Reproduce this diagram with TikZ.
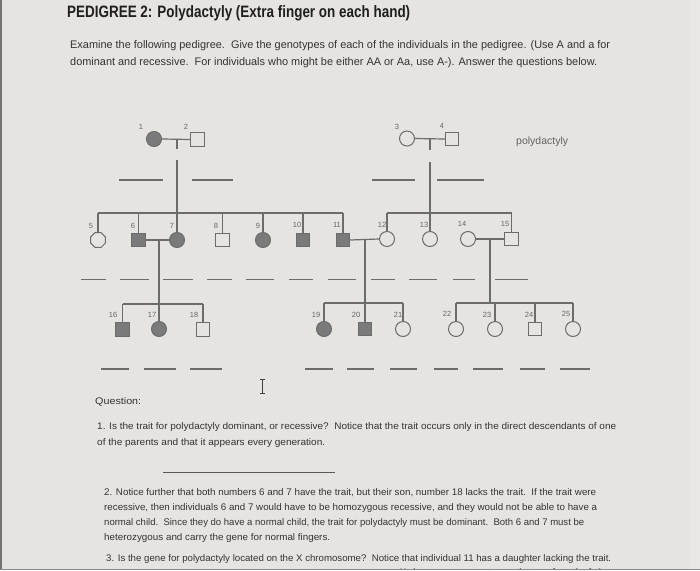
\documentclass[tikz,border=0pt]{standalone}
\usepackage{fontspec}
\setmainfont{Liberation Sans}
\usepackage{graphicx}
\usetikzlibrary{shapes.geometric}
\definecolor{paper}{HTML}{E6E4E0}
\definecolor{ink}{HTML}{333333}
\definecolor{lin}{HTML}{6C6C6C}
\definecolor{fil}{HTML}{7A7A7A}
\newcommand\fitw[2]{\resizebox{#1pt}{\height}{#2}}
\begin{document}
\begin{tikzpicture}[x=1pt,y=-1pt,
  line/.style={draw=lin, line width=1.2pt},
  fem/.style={circle, draw=lin, line width=1pt, minimum size=15pt, inner sep=0pt},
  oct/.style={regular polygon, regular polygon sides=8, draw=lin, line width=1pt, minimum size=16pt, inner sep=0pt},
  mal/.style={rectangle, draw=lin, line width=1pt, minimum size=13.5pt, inner sep=0pt},
  aff/.style={fill=fil},
  num/.style={font=\fontsize{7.5}{8}\selectfont, text=black!60, inner sep=0pt},
  blank/.style={draw=lin, line width=1.2pt},
  body/.style={anchor=base west, inner sep=0pt, text=ink, font=\fontsize{11}{13}\selectfont},
  qtext/.style={anchor=base west, inner sep=0pt, text=ink, font=\fontsize{9.6}{11}\selectfont}]
\useasboundingbox (0,0) rectangle (700,570);
\fill[paper] (0,0) rectangle (700,570);
\fill[black!55] (0,0) rectangle (2,570);
\fill[black!8, opacity=0.6] (690,0) rectangle (700,570);

% texts
\node[anchor=base west, inner sep=0pt, text=black!88, font=\fontsize{16.5}{18}\selectfont\bfseries] (title) at (67,17) {\fitw{343}{PEDIGREE 2: Polydactyly (Extra finger on each hand)}};
\node[body] (p1) at (70,48) {\fitw{540}{Examine the following pedigree.\ \ Give the genotypes of each of the individuals in the pedigree. (Use A and a for}};
\node[body] (p2) at (70,65) {\fitw{527}{dominant and recessive.\ \ For individuals who might be either AA or Aa, use A-). Answer the questions below.}};

% generation I
\node[fem, aff] (i1) at (154,139) {};
\node[mal] (i2) at (197.5,139.5) {};
\node[fem] (i3) at (407,138.5) {};
\node[mal] (i4) at (452,139) {};
% generation II
\node[oct] (i5) at (98,240) {};
\node[mal, aff] (i6) at (138.5,240) {};
\node[fem, aff] (i7) at (177,240) {};
\node[mal] (i8) at (222.5,240) {};
\node[fem, aff] (i9) at (263,240) {};
\node[mal, aff] (i10) at (303,240) {};
\node[mal, aff] (i11) at (343,240) {};
\node[fem] (i12) at (387,239) {};
\node[fem] (i13) at (430,239) {};
\node[fem] (i14) at (468,239) {};
\node[mal] (i15) at (511.5,239) {};
% generation III
\node[mal, aff] (i16) at (122.5,329.5) {};
\node[fem, aff] (i17) at (159,329) {};
\node[mal] (i18) at (203,329.5) {};
\node[fem, aff] (i19) at (324,329) {};
\node[mal, aff] (i20) at (365,329) {};
\node[fem] (i21) at (403,329) {};
\node[fem] (i22) at (456,329) {};
\node[fem] (i23) at (495,329) {};
\node[mal] (i24) at (535,329) {};
\node[fem] (i25) at (573,329) {};

% number labels
\foreach \n/\x/\y in {1/141/127, 2/186/127, 3/397/127, 4/442/126,
  5/91/226, 6/133/226, 7/172/226, 8/216/226, 9/258/226, 10/297/225, 11/337/225,
  12/382/225, 13/424/225, 14/462/224, 15/505/224,
  16/113/315, 17/152/315, 18/194/315, 19/316/315, 20/356/315, 21/398/315,
  22/447/314, 23/487/315, 24/529/315, 25/566/314}
  \node[num] (n\n) at (\x,\y) {\n};

\node[anchor=west, inner sep=0pt, text=black!62, font=\fontsize{10.5}{12}\selectfont] (poly) at (516,142) {polydactyly};

% family 1-2
\coordinate (m12) at (177,139.3);
\coordinate (t12) at (177,149);
\coordinate (d12) at (177,160);
\coordinate (sAL) at (98,213);
\coordinate (sAR) at (343,213);
\draw[line] (i1.east) -- (i2.west);
\draw[line] (m12) -- (t12);
\draw[line] (d12) -- (d12 |- sAL);
\draw[line] (sAL) -- (sAR);
\foreach \c in {i5,i6,i7,i8,i9,i10,i11} \draw[line] (\c.north) -- (\c.north |- sAL);

% family 3-4
\coordinate (m34) at (430,139);
\coordinate (t34) at (430,150);
\coordinate (d34) at (430,162);
\coordinate (sBL) at (387,213);
\coordinate (sBR) at (511.5,213);
\draw[line] (i3.east) -- (i4.west);
\draw[line] (m34) -- (t34);
\draw[line] (d34) -- (d34 |- sBL);
\draw[line] (sBL) -- (sBR);
\foreach \c in {i12,i13,i15} \draw[line] (\c.north) -- (\c.north |- sBL);

% family 6-7
\coordinate (m67) at (159,240);
\coordinate (sCL) at (122.5,304);
\coordinate (sCR) at (203,304);
\draw[line] (i6.east) -- (i7.west);
\draw[line] (m67) -- (m67 |- sCL);
\draw[line] (sCL) -- (sCR);
\foreach \c in {i16,i17,i18} \draw[line] (\c.north) -- (\c.north |- sCL);

% family 11-12
\coordinate (m1112) at (365,240);
\coordinate (sDL) at (324,303);
\coordinate (sDR) at (403,303);
\draw[line] (i11.east) -- (i12.west);
\draw[line] (m1112) -- (m1112 |- sDL);
\draw[line] (sDL) -- (sDR);
\foreach \c in {i19,i20,i21} \draw[line] (\c.north) -- (\c.north |- sDL);

% family 14-15
\coordinate (m1415) at (490,239);
\coordinate (sEL) at (456,303);
\coordinate (sER) at (573,303);
\draw[line] (i14.east) -- (i15.west);
\draw[line] (m1415) -- (m1415 |- sEL);
\draw[line] (sEL) -- (sER);
\foreach \c in {i22,i23,i24,i25} \draw[line] (\c.north) -- (\c.north |- sEL);

% answer blanks
\foreach \a/\b in {119/163, 192/233, 372/415, 437/484}
  \draw[blank] (\a,180) -- (\b,180);
\foreach \a/\b in {81/106, 120/149, 163/193, 207/232, 246/274, 289/313, 328/356, 371/395, 409/437, 453/475, 495/528}
  \draw[blank] (\a,279.5) -- (\b,279.5);
\foreach \a/\b in {101/129, 144/176, 190/222, 305/333, 347/374, 390/417, 434/458, 473/503, 520/545, 560/590}
  \draw[blank] (\a,369) -- (\b,369);

% text cursor
\draw[black!75, line width=0.7pt] (262,380) -- (262,393);
\draw[black!75, line width=0.7pt] (259.5,379.5) -- (264.5,379.5);
\draw[black!75, line width=0.7pt] (259.5,393.5) -- (264.5,393.5);

% questions
\node[qtext] (q0) at (95,404) {\fitw{46}{Question:}};
\node[qtext] (q1a) at (97,429) {\fitw{519}{1. Is the trait for polydactyly dominant, or recessive?\ \ Notice that the trait occurs only in the direct descendants of one}};
\node[qtext] (q1b) at (97,445.5) {\fitw{228}{of the parents and that it appears every generation.}};
\draw[black!65, line width=0.8pt] (163,472) -- (335,472);
\node[qtext] (q2a) at (104,495) {\fitw{492}{2. Notice further that both numbers 6 and 7 have the trait, but their son, number 18 lacks the trait.\ \ If the trait were}};
\node[qtext] (q2b) at (104,510) {\fitw{493}{recessive, then individuals 6 and 7 would have to be homozygous recessive, and they would not be able to have a}};
\node[qtext] (q2c) at (104,525) {\fitw{480}{normal child.\ \ Since they do have a normal child, the trait for polydactyly must be dominant.\ \ Both 6 and 7 must be}};
\node[qtext] (q2d) at (104,540.5) {\fitw{226}{heterozygous and carry the gene for normal fingers.}};
\node[qtext] (q3) at (106,561) {\fitw{505}{3. Is the gene for polydactyly located on the X chromosome?\ \ Notice that individual 11 has a daughter lacking the trait.}};
\begin{scope}
\clip (0,0) rectangle (700,569);
\node[qtext] (q3b) at (400,575) {\fitw{212}{X chromosomes, must carry that one from the father}};
\end{scope}
\fill[black!45] (0,569) rectangle (700,570);
\end{tikzpicture}
\end{document}
